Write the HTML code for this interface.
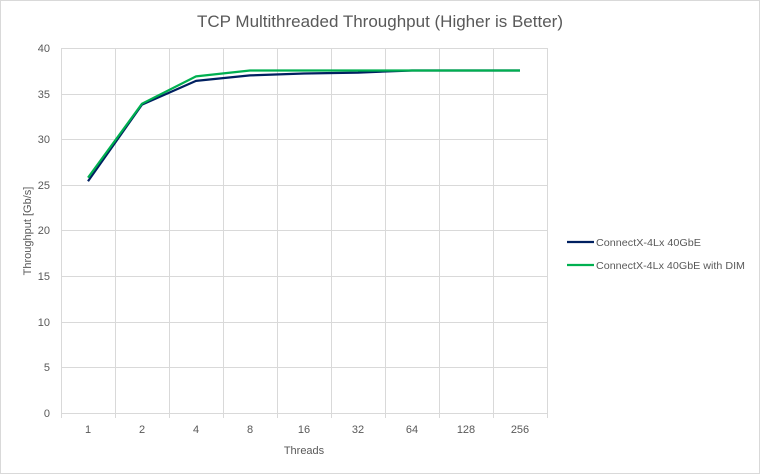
<!DOCTYPE html>
<html><head><meta charset="utf-8"><style>
html,body{margin:0;padding:0;background:#fff;}
svg{display:block;font-family:"Liberation Sans",sans-serif;}
</style></head><body>
<svg width="760" height="474" viewBox="0 0 760 474">
<rect x="0.5" y="0.5" width="759" height="473" fill="#fff" stroke="#d9d9d9"/>
<text x="380" y="27" text-anchor="middle" font-size="17" fill="#595959">TCP Multithreaded Throughput (Higher is Better)</text>
<g stroke="#d9d9d9" stroke-width="1">
<line x1="61" y1="48.5" x2="547" y2="48.5"/>
<line x1="61" y1="94.5" x2="547" y2="94.5"/>
<line x1="61" y1="139.5" x2="547" y2="139.5"/>
<line x1="61" y1="185.5" x2="547" y2="185.5"/>
<line x1="61" y1="230.5" x2="547" y2="230.5"/>
<line x1="61" y1="276.5" x2="547" y2="276.5"/>
<line x1="61" y1="322.5" x2="547" y2="322.5"/>
<line x1="61" y1="367.5" x2="547" y2="367.5"/>
<line x1="61.5" y1="48" x2="61.5" y2="418"/>
<line x1="115.5" y1="48" x2="115.5" y2="418"/>
<line x1="169.5" y1="48" x2="169.5" y2="418"/>
<line x1="223.5" y1="48" x2="223.5" y2="418"/>
<line x1="277.5" y1="48" x2="277.5" y2="418"/>
<line x1="331.5" y1="48" x2="331.5" y2="418"/>
<line x1="385.5" y1="48" x2="385.5" y2="418"/>
<line x1="439.5" y1="48" x2="439.5" y2="418"/>
<line x1="493.5" y1="48" x2="493.5" y2="418"/>
<line x1="547.5" y1="48" x2="547.5" y2="418"/>
<line x1="61" y1="413.5" x2="547" y2="413.5"/>
</g>
<g font-size="11" fill="#595959" text-anchor="end">
<text x="50" y="52">40</text><text x="50" y="98">35</text><text x="50" y="143">30</text><text x="50" y="189">25</text>
<text x="50" y="234">20</text><text x="50" y="280">15</text><text x="50" y="326">10</text><text x="50" y="371">5</text><text x="50" y="417">0</text>
</g>
<g font-size="11" fill="#595959" text-anchor="middle">
<text x="88" y="433">1</text><text x="142" y="433">2</text><text x="196" y="433">4</text><text x="250" y="433">8</text>
<text x="304" y="433">16</text><text x="358" y="433">32</text><text x="412" y="433">64</text><text x="466" y="433">128</text><text x="520" y="433">256</text>
<text x="304" y="454">Threads</text>
</g>
<text transform="translate(31,231) rotate(-90)" font-size="11" fill="#595959" text-anchor="middle">Throughput [Gb/s]</text>
<polyline fill="none" stroke="#002060" stroke-width="2.2" stroke-linejoin="round" points="88,181.2 142,104.6 196,80.9 250,75.4 304,73.5 358,72.6 412,70.5 466,70.5 520,70.5"/>
<polyline fill="none" stroke="#00b050" stroke-width="2.2" stroke-linejoin="round" points="88,177.6 142,103.7 196,76.4 250,70.5 304,70.5 358,70.5 412,70.5 466,70.5 520,70.5"/>
<line x1="567" y1="242" x2="594" y2="242" stroke="#002060" stroke-width="2.2"/>
<line x1="567" y1="265" x2="594" y2="265" stroke="#00b050" stroke-width="2.2"/>
<g font-size="10.5" fill="#595959">
<text x="596" y="246" textLength="105" lengthAdjust="spacingAndGlyphs">ConnectX-4Lx 40GbE</text>
<text x="596" y="269" textLength="149" lengthAdjust="spacingAndGlyphs">ConnectX-4Lx 40GbE with DIM</text>
</g>
</svg>
</body></html>
